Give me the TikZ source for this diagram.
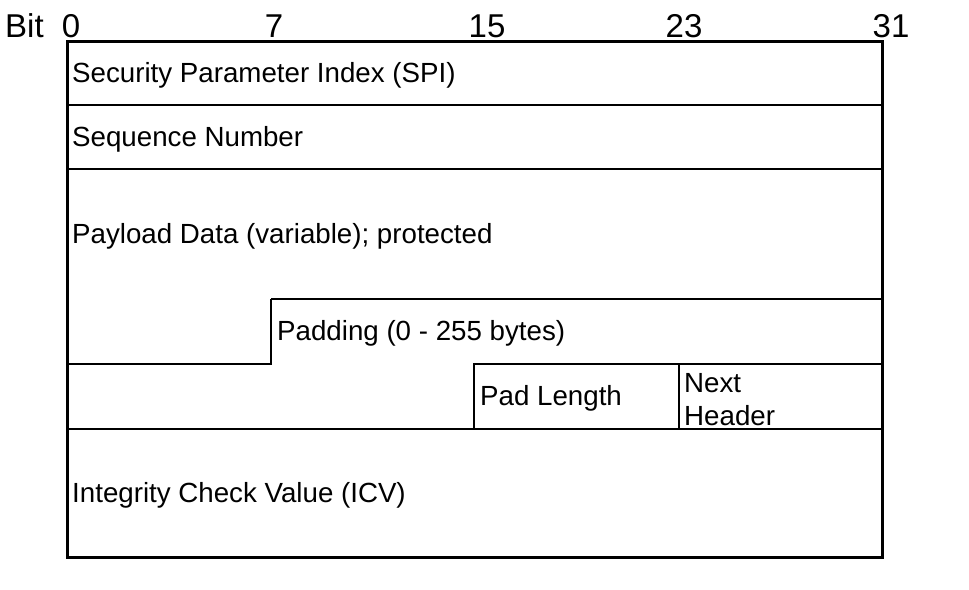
\documentclass[tikz,border=0pt]{standalone}
\usepackage{fontspec}
\setmainfont{Liberation Sans}
\begin{document}
\begin{tikzpicture}[x=1pt,y=-1pt,
  field/.style={anchor=base west,inner sep=0pt,font=\fontsize{27.7}{32.6}\selectfont,align=left},
  bitlbl/.style={anchor=base,inner sep=0pt,font=\fontsize{33}{36}\selectfont},
  inner/.style={line width=1.6pt},
  outer/.style={line width=3pt}]
\useasboundingbox (0,0) rectangle (969,589);
% bit labels
\node[bitlbl,anchor=base west] (bit) at (5,37.5) {Bit};
\node[bitlbl] (b0) at (71,37.5) {0};
\node[bitlbl] (b7) at (274,37.5) {7};
\node[bitlbl] (b15) at (487,37.5) {15};
\node[bitlbl] (b23) at (684,37.5) {23};
\node[bitlbl] (b31) at (891,37.5) {31};
% inner lines
\draw[inner] (67,105) -- (882,105);
\draw[inner] (67,169) -- (882,169);
\draw[inner] (271,299) -- (882,299);
\draw[inner] (67,364) -- (271,364) -- (271,299);
\draw[inner] (474,429) -- (474,364) -- (882,364);
\draw[inner] (679,364) -- (679,429);
\draw[inner] (67,429) -- (882,429);
% outer frame
\draw[outer] (67,41) rectangle (882,557);
% field texts
\node[field] (spi) at (72,82.3) {Security Parameter Index (SPI)};
\node[field] (seq) at (72,146.3) {Sequence Number};
\node[field] (pay) at (72,243.3) {Payload Data (variable); protected};
\node[field] (pad) at (277,340.8) {Padding (0 - 255 bytes)};
\node[field] (padlen) at (480,405.8) {Pad Length};
\node[field] (nh) at (684,425) {Next\\Header};
\node[field] (icv) at (72,502.3) {Integrity Check Value (ICV)};
\end{tikzpicture}
\end{document}
